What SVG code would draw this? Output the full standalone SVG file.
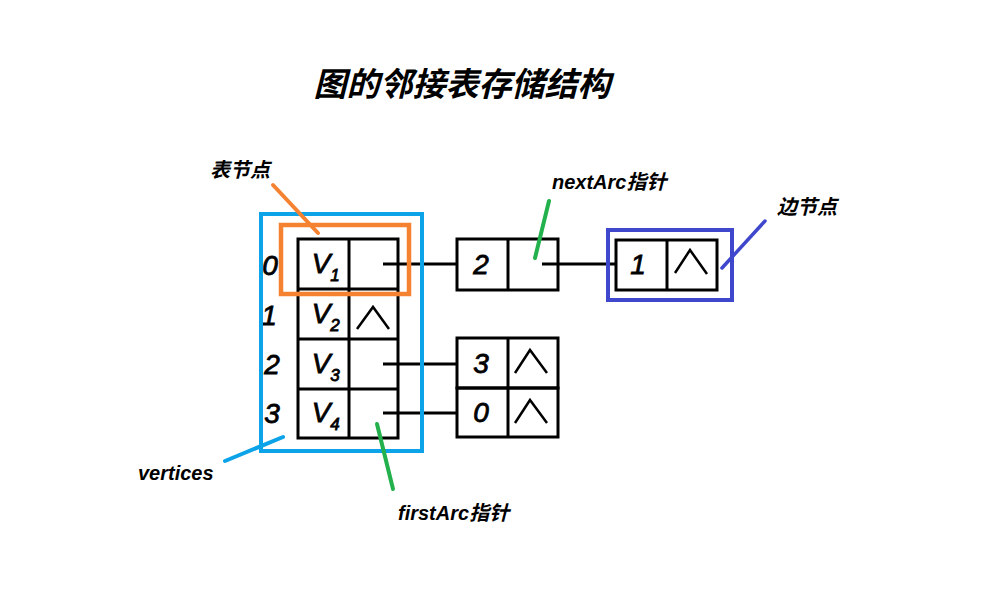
<svg xmlns="http://www.w3.org/2000/svg" width="989" height="590" viewBox="0 0 989 590">
<style>
.box{fill:none;stroke:#000;stroke-width:3}
.ln{fill:none;stroke:#000;stroke-width:3}
.nil{fill:none;stroke:#000;stroke-width:2.5}
.cell{font-family:"Liberation Sans","DejaVu Sans",sans-serif;font-style:italic;font-size:28px;fill:#000;stroke:#000;stroke-width:0.8;text-anchor:middle}
.sub{font-size:17px}
.lbl{font-family:"Liberation Sans","Noto Sans CJK SC",sans-serif;font-style:italic;font-weight:bold;font-size:20px;fill:#000}
.title{font-family:"Noto Sans CJK SC",sans-serif;font-style:italic;font-weight:bold;font-size:33px;fill:#000}
</style>
<rect width="989" height="590" fill="#fff"/>
<text class="title" x="462" y="96" text-anchor="middle">图的邻接表存储结构</text>

<g id="vertices-table">
  <rect class="box" x="298" y="239" width="100" height="199"/>
  <line class="ln" x1="349" y1="239" x2="349" y2="438"/>
  <line class="ln" x1="298" y1="289" x2="398" y2="289"/>
  <line class="ln" x1="298" y1="339" x2="398" y2="339"/>
  <line class="ln" x1="298" y1="389" x2="398" y2="389"/>
  <text class="cell" x="270" y="275">0</text>
  <text class="cell" x="269" y="325">1</text>
  <text class="cell" x="272" y="374">2</text>
  <text class="cell" x="272" y="423">3</text>
  <text class="cell" x="321" y="273">V</text><text class="cell sub" x="335" y="281">1</text>
  <text class="cell" x="321" y="323">V</text><text class="cell sub" x="335" y="331">2</text>
  <text class="cell" x="321" y="373">V</text><text class="cell sub" x="335" y="381">3</text>
  <text class="cell" x="321" y="422">V</text><text class="cell sub" x="335" y="430">4</text>
  <polyline class="nil" points="357,329 373,307 389,329"/>
</g>

<g id="edge-0-2">
  <rect class="box" x="457" y="239" width="101" height="51"/>
  <line class="ln" x1="508" y1="239" x2="508" y2="290"/>
  <text class="cell" x="481" y="274">2</text>
</g>
<g id="edge-0-1">
  <rect class="box" x="616" y="240" width="101" height="50"/>
  <line class="ln" x1="667" y1="240" x2="667" y2="290"/>
  <text class="cell" x="638" y="274">1</text>
  <polyline class="nil" points="675,273 690,250 707,274"/>
</g>
<g id="edge-2-3">
  <rect class="box" x="457" y="338" width="101" height="50"/>
  <line class="ln" x1="508" y1="338" x2="508" y2="388"/>
  <text class="cell" x="481" y="373">3</text>
  <polyline class="nil" points="515,373 530,350 547,373"/>
</g>
<g id="edge-3-0">
  <rect class="box" x="457" y="388" width="101" height="49"/>
  <line class="ln" x1="508" y1="388" x2="508" y2="437"/>
  <text class="cell" x="481" y="422">0</text>
  <polyline class="nil" points="515,423 530,400 547,423"/>
</g>

<g id="connectors">
  <line class="ln" x1="383" y1="264" x2="457" y2="264"/>
  <line class="ln" x1="542" y1="264" x2="616" y2="264"/>
  <line class="ln" x1="383" y1="364" x2="457" y2="364"/>
  <line class="ln" x1="383" y1="413" x2="457" y2="413"/>
</g>

<g id="annotations">
  <rect x="261" y="214" width="161" height="237" fill="none" stroke="#0ca3e8" stroke-width="4"/>
  <rect x="281" y="225" width="128" height="69" fill="none" stroke="#f58231" stroke-width="4.5"/>
  <rect x="608" y="230" width="124" height="70" fill="none" stroke="#3f48cc" stroke-width="4"/>
  <line x1="273" y1="185" x2="318" y2="233" stroke="#f58231" stroke-width="4" stroke-linecap="round"/>
  <line x1="549" y1="201" x2="535" y2="258" stroke="#22b14c" stroke-width="4" stroke-linecap="round"/>
  <line x1="765" y1="221" x2="722" y2="268" stroke="#3f48cc" stroke-width="3.5" stroke-linecap="round"/>
  <line x1="225" y1="461" x2="283" y2="437" stroke="#0ca3e8" stroke-width="4" stroke-linecap="round"/>
  <line x1="377" y1="424" x2="393" y2="489" stroke="#22b14c" stroke-width="4" stroke-linecap="round"/>
  <text class="lbl" x="210" y="177">表节点</text>
  <text class="lbl" x="552" y="189">nextArc指针</text>
  <text class="lbl" x="777" y="214">边节点</text>
  <text class="lbl" x="138" y="480">vertices</text>
  <text class="lbl" x="398" y="520">firstArc指针</text>
</g>
</svg>
